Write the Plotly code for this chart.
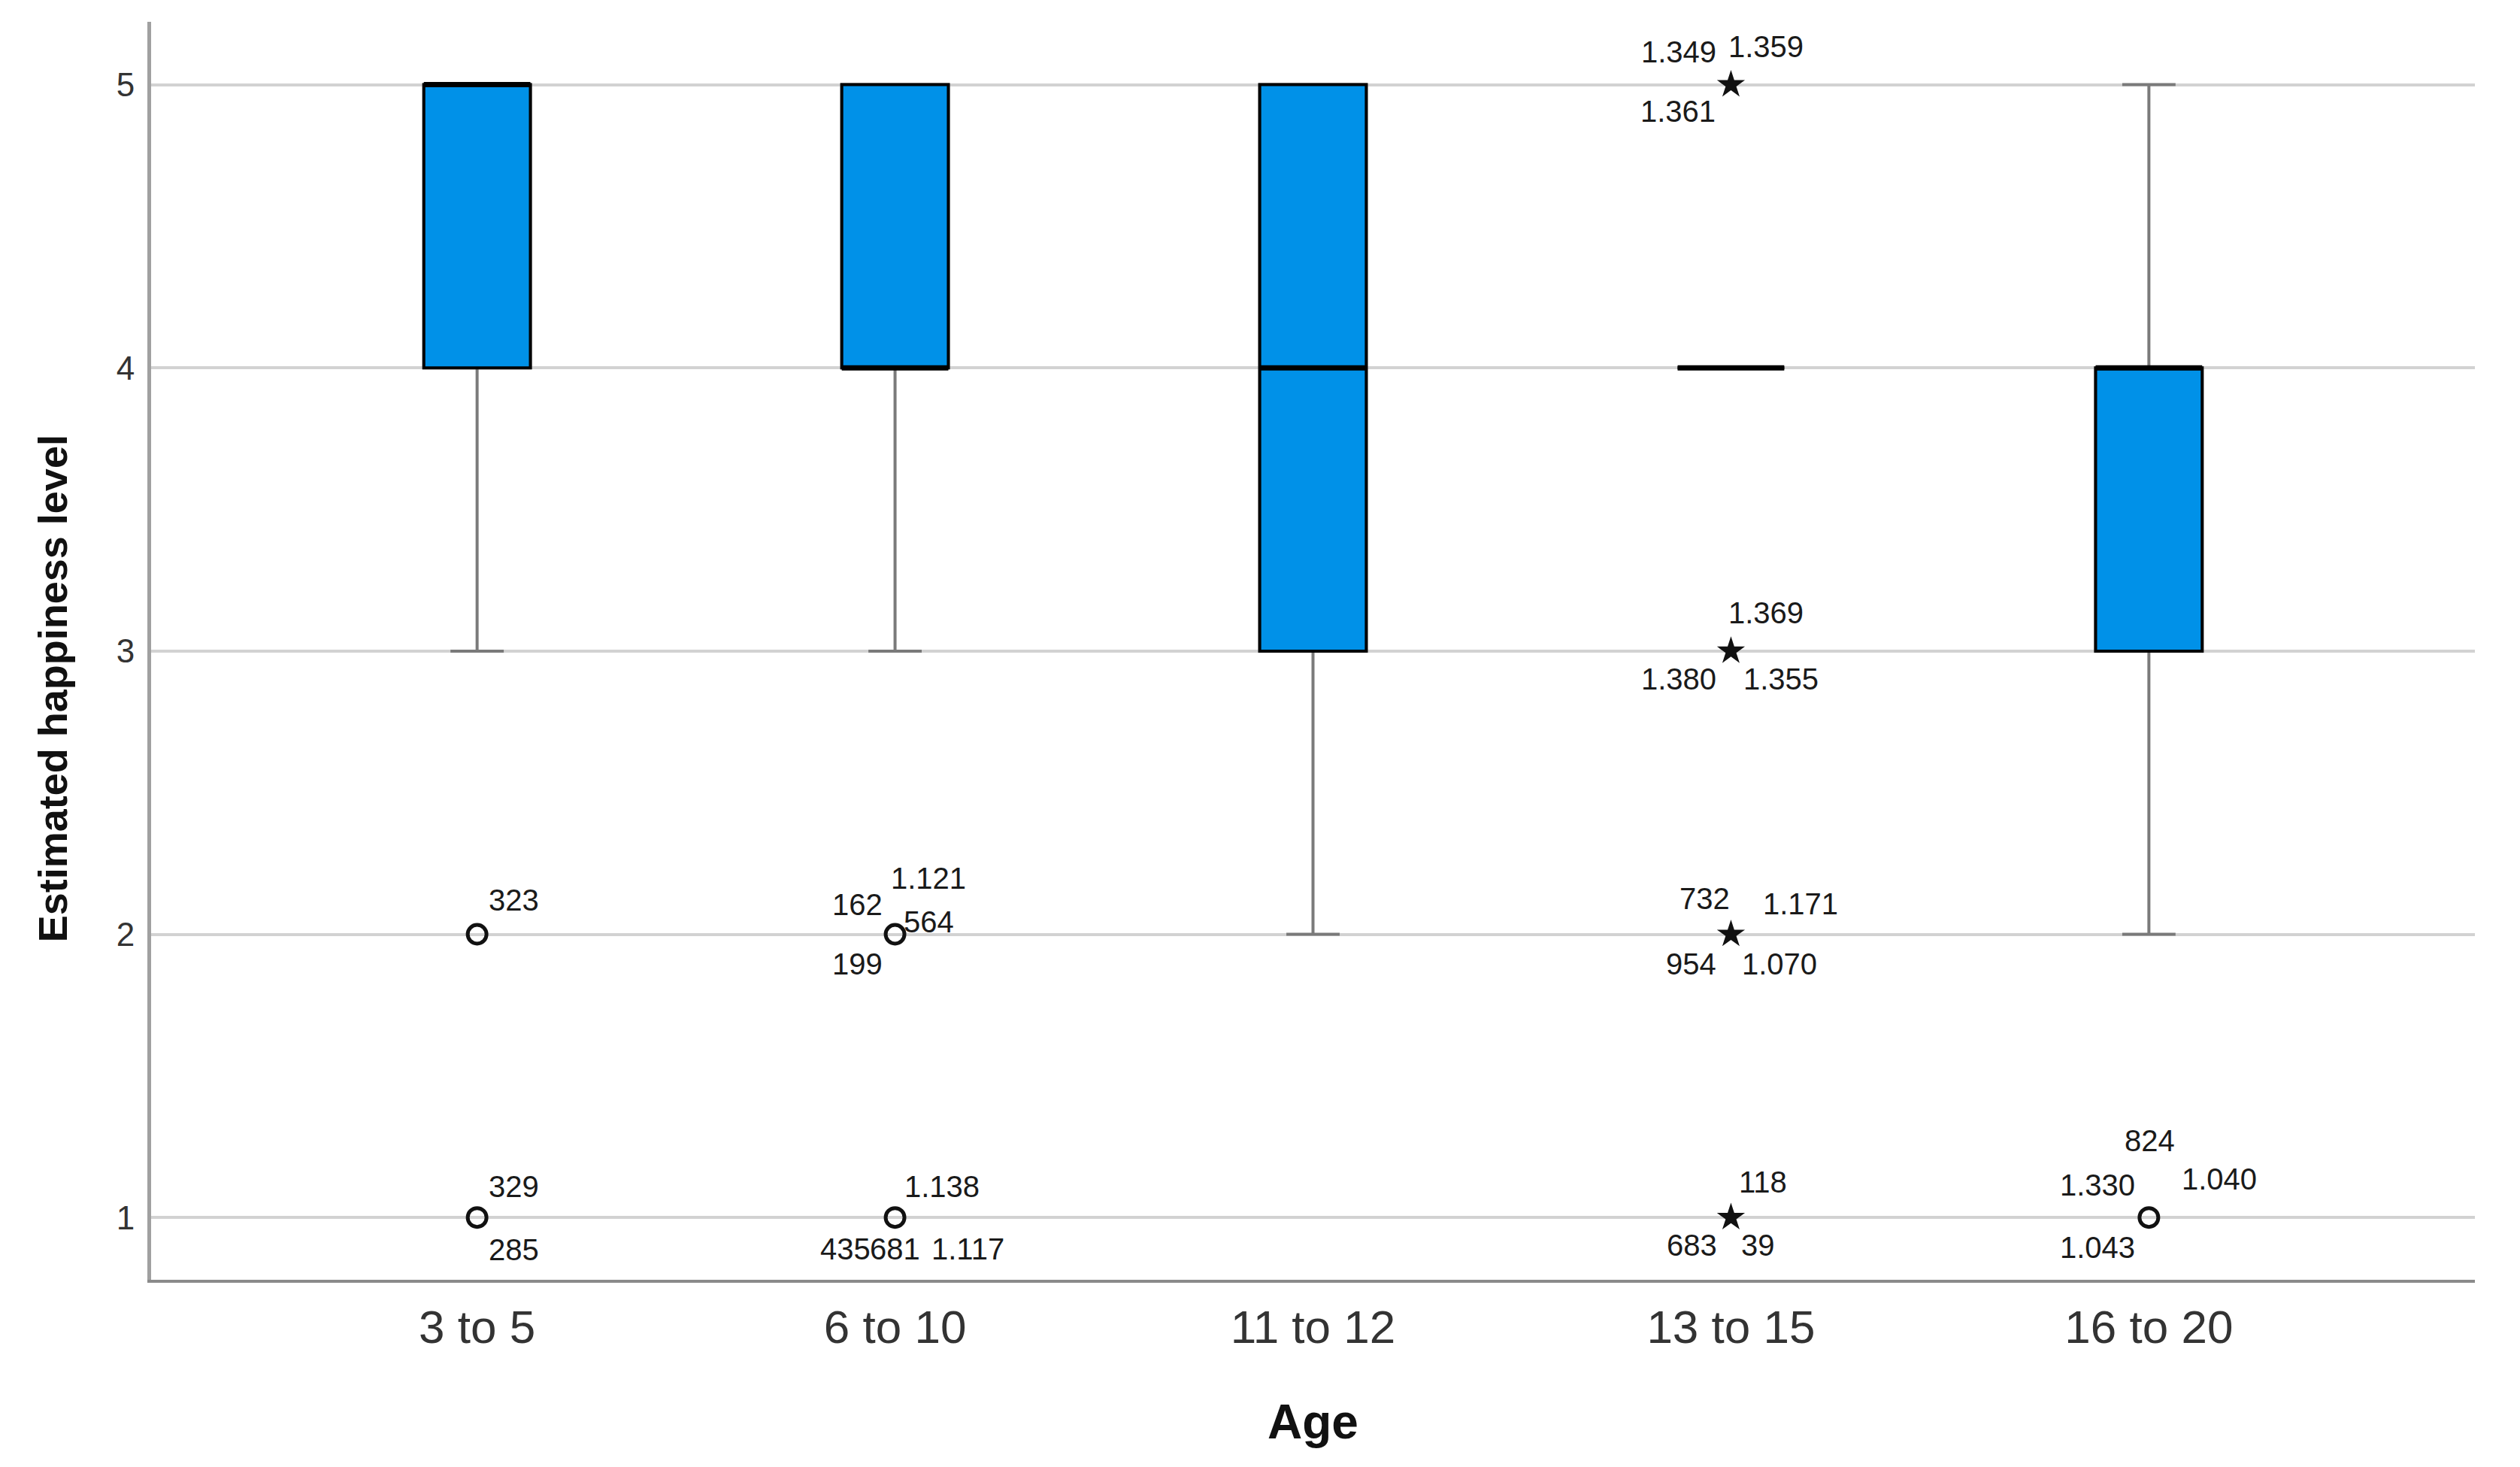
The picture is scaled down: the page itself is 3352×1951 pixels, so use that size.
import plotly.graph_objects as go

# ---------------- data ----------------
categories = ["3 to 5", "6 to 10", "11 to 12", "13 to 15", "16 to 20"]
q1 = [4, 4, 3, 4, 3]
median = [5, 4, 4, 4, 4]
q3 = [5, 5, 5, 4, 4]
lower_whisker = [3, 3, 2, 4, 2]
upper_whisker = [5, 5, 5, 4, 5]

# outliers (circles) and extreme values (stars)
outlier_cat = ["3 to 5", "3 to 5", "6 to 10", "6 to 10", "16 to 20"]
outlier_val = [2, 1, 2, 1, 1]
extreme_cat = ["13 to 15", "13 to 15", "13 to 15", "13 to 15"]
extreme_val = [5, 3, 2, 1]

# case labels attached to the outlying points
case_cat = ["3 to 5", "3 to 5", "3 to 5",
            "6 to 10", "6 to 10", "6 to 10", "6 to 10",
            "6 to 10", "6 to 10", "6 to 10", "6 to 10",
            "13 to 15", "13 to 15", "13 to 15",
            "13 to 15", "13 to 15", "13 to 15",
            "13 to 15", "13 to 15", "13 to 15", "13 to 15",
            "13 to 15", "13 to 15", "13 to 15",
            "16 to 20", "16 to 20", "16 to 20", "16 to 20"]
case_val = [2, 1, 1,
            2, 2, 2, 2,
            1, 1, 1, 1,
            5, 5, 5,
            3, 3, 3,
            2, 2, 2, 2,
            1, 1, 1,
            1, 1, 1, 1]
case_id = ["323", "329", "285",
           "162", "1.121", "564", "199",
           "1.138", "435", "681", "1.117",
           "1.349", "1.359", "1.361",
           "1.369", "1.380", "1.355",
           "732", "1.171", "954", "1.070",
           "118", "683", "39",
           "824", "1.330", "1.040", "1.043"]

# ---------------- styling (pixel offsets of the case labels) ----------------
label_offsets_px = [(49, -44), (49, -39), (49, 45),
                    (-50, -38), (44, -73), (45, -15), (-50, 41),
                    (62, -39), (-66, 44), (0, 44), (97, 44),
                    (-69, -42), (47, -49), (-70, 37),
                    (47, -49), (-69, 39), (67, 39),
                    (-35, -46), (93, -39), (-53, 41), (65, 41),
                    (43, -45), (-52, 39), (36, 39),
                    (1, -100), (-68, -41), (94, -49), (-68, 42)]

BOX_FILL = "#0091E8"
FONT = "Liberation Sans, Arial, sans-serif"
BOX_W = 0.255

fig = go.Figure()

# whiskers (grey)
fig.add_trace(go.Box(
    x=categories, q1=q1, median=median, q3=q3,
    lowerfence=lower_whisker, upperfence=upper_whisker,
    width=BOX_W, whiskerwidth=0.5, fillcolor=BOX_FILL,
    line=dict(color="#7a7a7a", width=4), boxpoints=False,
    showlegend=False, hoverinfo="skip"))

# boxes (black outline)
fig.add_trace(go.Box(
    x=categories, q1=q1, median=median, q3=q3,
    lowerfence=q1, upperfence=q3,
    width=BOX_W, whiskerwidth=0, fillcolor=BOX_FILL,
    line=dict(color="#000000", width=4), boxpoints=False,
    showlegend=False, hoverinfo="skip"))

# thick median line
fig.add_trace(go.Box(
    x=categories, q1=median, median=median, q3=median,
    lowerfence=median, upperfence=median,
    width=BOX_W, whiskerwidth=0, fillcolor="#000000",
    line=dict(color="#000000", width=7), boxpoints=False,
    showlegend=False, hoverinfo="skip"))

# outliers
fig.add_trace(go.Scatter(
    x=outlier_cat, y=outlier_val, mode="markers",
    marker=dict(symbol="circle-open", size=25, color="#111111",
                line=dict(width=5, color="#111111")),
    showlegend=False, hoverinfo="skip"))

# extreme values
fig.add_trace(go.Scatter(
    x=extreme_cat, y=extreme_val, mode="markers",
    marker=dict(symbol="star", size=28, color="#111111",
                line=dict(width=0)),
    showlegend=False, hoverinfo="skip"))

annotations = []
for c, v, t, (dx, dy) in zip(case_cat, case_val, case_id, label_offsets_px):
    annotations.append(dict(
        x=c, y=v, xref="x", yref="y", text=t, showarrow=False,
        xanchor="center", yanchor="middle", xshift=dx, yshift=-dy + 2,
        font=dict(family=FONT, size=40, color="#1a1a1a")))

# axis titles
annotations.append(dict(
    text="<b>Age</b>", xref="paper", yref="paper", x=0.5, y=-0.113,
    xanchor="center", yanchor="middle", showarrow=False,
    font=dict(family=FONT, size=64, color="#111111")))
annotations.append(dict(
    text="<b>Estimated happiness level</b>", xref="paper", yref="paper",
    x=-0.0425, y=0.47, textangle=-90, xanchor="center", yanchor="middle",
    showarrow=False, font=dict(family=FONT, size=54, color="#111111")))

fig.update_layout(
    width=3344, height=1943,
    margin=dict(l=193, r=60, t=21, b=249),
    paper_bgcolor="white", plot_bgcolor="white",
    boxmode="overlay",
    annotations=annotations,
    font=dict(family=FONT, color="#333333"),
)

fig.update_xaxes(
    type="category", categoryorder="array", categoryarray=categories,
    range=[-0.78, 4.78], showgrid=False, zeroline=False,
    showline=True, linecolor="#8a8a8a", linewidth=4,
    ticks="", ticklabelstandoff=6,
    tickfont=dict(family=FONT, size=62, color="#333333"))

fig.update_yaxes(
    range=[0.78, 5.222], tickvals=[1, 2, 3, 4, 5],
    showgrid=True, gridcolor="#d2d2d2", gridwidth=4, zeroline=False,
    showline=True, linecolor="#a0a0a0", linewidth=5,
    ticks="", ticklabelstandoff=8,
    tickfont=dict(family=FONT, size=44, color="#333333"))

fig.write_html("out.html")
